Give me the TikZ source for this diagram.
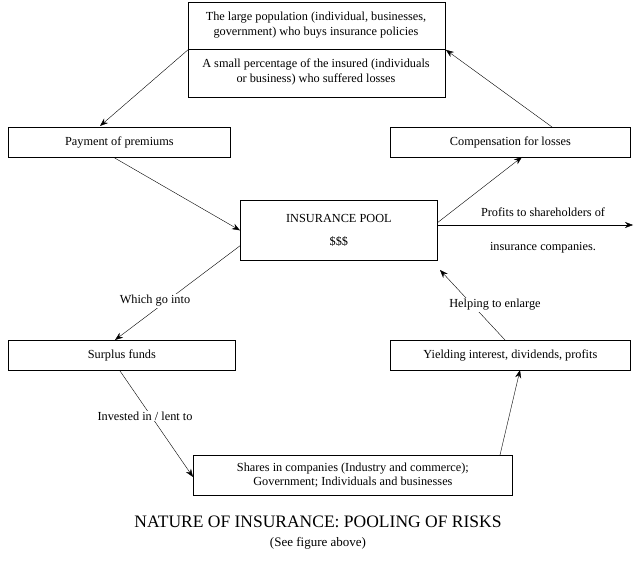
\documentclass[tikz,border=0pt]{standalone}
\usepackage{fontspec}
\setmainfont{Liberation Serif}
\usetikzlibrary{arrows.meta}
\begin{document}
\begin{tikzpicture}[x=1pt,y=-1pt,
  box/.style={draw,thick,inner sep=0pt},
  t/.style={font=\fontsize{12.3}{14.5}\selectfont,align=center},
  arr/.style={-{Stealth[length=8pt,width=6pt]},thin}]
\useasboundingbox (0,0) rectangle (640,561);
\node[box,minimum width=257,minimum height=47,anchor=north west] (top1) at (188,2) {};
\node[box,minimum width=257,minimum height=48,anchor=north west] (top2) at (188,49) {};
\node[t] at (316,25) {The large population (individual, businesses,\\government) who buys insurance policies};
\node[t] at (316,72) {A small percentage of the insured (individuals\\or business) who suffered losses};
\node[box,t,minimum width=222,minimum height=30,anchor=north west] (pay) at (8,127) {Payment of premiums};
\node[box,t,minimum width=240,minimum height=30,anchor=north west] (comp) at (390,127) {Compensation for losses};
\node[box,t,minimum width=197,minimum height=60,anchor=north west] (pool) at (240,200) {INSURANCE POOL\\[8pt]\$\$\$};
\node[box,t,minimum width=227,minimum height=30,anchor=north west] (sur) at (8,340) {Surplus funds};
\node[box,t,minimum width=240,minimum height=30,anchor=north west] (yld) at (390,340) {Yielding interest, dividends, profits};
\node[box,t,minimum width=319,minimum height=40,anchor=north west] (sh) at (193,455) {Shares in companies (Industry and commerce);\\Government; Individuals and businesses};
\coordinate (pe) at (633,225);
\draw[arr] (top1.south west) -- (100,126);
\draw[arr] (552,127) -- (top1.south east);
\draw[arr] (pay.south) ++(-5,0) -- (pool.west);
\draw[arr] (pool.east) ++(0,-8) -- (522,157);
\draw[arr] (437,225) -- (pe);
\node[t,anchor=south] at (543,220) {Profits to shareholders of};
\node[t] at (543,248) {insurance companies.};
\draw[arr] (pool.south west)++(0,-15) -- (115,340);
\node[t,fill=white,inner sep=1pt] at (155,301) {Which go into};
\draw[arr] (sur.south)++(-2,0) -- (193,477);
\node[t,fill=white,inner sep=1pt] at (145,416) {Invested in / lent to};
\draw[arr] (500,455) -- (520,370);
\draw[arr] (505,340) -- (440,270);
\node[t,fill=white,inner sep=1pt] at (495,305) {Helping to enlarge};
\node[font=\fontsize{17.5}{20}\selectfont] (title) at (318,522) {NATURE OF INSURANCE: POOLING OF RISKS};
\node[font=\fontsize{13}{15}\selectfont] (cap) at (318,543) {(See figure above)};
\end{tikzpicture}
\end{document}
